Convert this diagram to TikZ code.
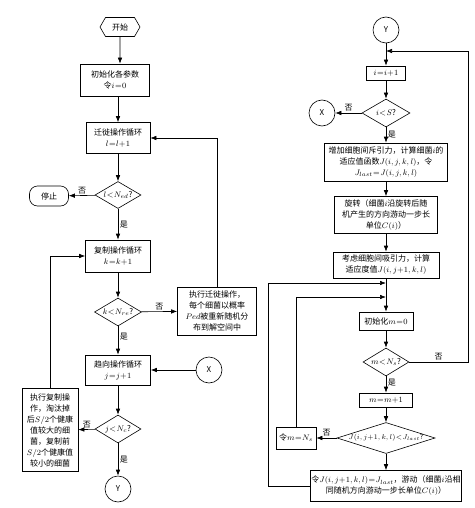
\documentclass[tikz,border=0pt]{standalone}
\usepackage{fontspec, amsmath}
\newfontfamily\cjk{Noto Sans CJK SC}
\usetikzlibrary{arrows.meta, shapes.geometric, shapes.symbols}
\newcommand{\tightmath}{\thickmuskip=1mu\relax\medmuskip=0.5mu\relax}

\begin{document}
\begin{tikzpicture}[x=1pt, y=-1pt, line width=0.6pt,
        font=\cjk\fontsize{8}{11}\selectfont\tightmath,
        box/.style={draw, align=center, inner sep=1.5pt},
        dia/.style={draw, diamond, aspect=1.7, inner sep=0pt},
        circ/.style={draw, circle, minimum size=26pt, inner sep=0pt},
        arr/.style={-{Latex[length=6pt, width=4.5pt]}},
        lab/.style={font=\cjk\fontsize{8}{9}\selectfont, inner sep=1.5pt}]
    \useasboundingbox (0,0) rectangle (474,508);
    % left column
    \node[draw, signal, signal to=west and east, signal pointer angle=120, minimum width=40pt, minimum height=19pt, inner sep=1pt] (start) at (120,27) {开始};
    \node[box, minimum width=69pt, minimum height=32pt] (init) at (115,80) {初始化各参数\\令$i=0$};
    \node[box, minimum width=64pt, minimum height=31pt] (mig) at (118,138) {迁徙操作循环\\$l=l+1$};
    \node[dia, minimum width=46pt, minimum height=27pt] (ded) at (118,195) {$l<N_{ed}$?};
    \node[draw, rounded corners=8pt, minimum width=39pt, minimum height=20pt] (stop) at (49,196) {停止};
    \node[box, minimum width=65pt, minimum height=32pt] (rep) at (118,256) {复制操作循环\\$k=k+1$};
    \node[dia, minimum width=47pt, minimum height=28pt] (dre) at (118,312) {$k<N_{re}$?};
    \node[box, minimum width=79pt, minimum height=48pt] (exe) at (217,311) {执行迁徙操作，\\每个细菌以概率\\$Ped$被重新随机分\\布到解空间中};
    \node[box, minimum width=65pt, minimum height=30pt] (chem) at (118,370) {趋向操作循环\\$j=j+1$};
    \node[circ] (xa) at (209,370) {X};
    \node[dia, minimum width=46pt, minimum height=28pt] (dc) at (118,429) {$j<N_c$?};
    \node[box, minimum width=56pt, minimum height=83pt, inner sep=1pt] (repr) at (50,430) {执行复制操\\作，淘汰掉\\后$S/2$个健康\\值较大的细\\菌，复制前\\$S/2$个健康值\\较小的细菌};
    \node[circ] (ya) at (118,489) {Y};

    \draw[arr] (start) -- (start |- init.north);
    \draw[arr] (init.south -| mig) -- (mig);
    \draw[arr] (mig) -- (ded);
    \draw[arr] (ded) -- node[lab, above]{否} (stop);
    \draw[arr] (ded) -- node[lab, right]{是} (rep);
    \draw[arr] (rep) -- (dre);
    \draw[arr] (dre) -- node[lab, above]{否} (exe);
    \draw[arr] (exe.north) |- (mig.east);
    \draw[arr] (dre) -- node[lab, right, pos=0.35]{是} (chem);
    \draw[arr] (xa) -- (chem);
    \draw[arr] (chem) -- (dc);
    \draw[arr] (dc) -- node[lab, above]{否} (repr);
    \draw[arr] (repr.north) |- (rep.west);
    \draw[arr] (dc) -- node[lab, right]{是} (ya);

    % right column
    \node[circ] (yb) at (386,30) {Y};
    \coordinate (back) at (386,51);
    \coordinate (rx) at (468,0);
    \node[box, minimum width=39pt, minimum height=14pt, inner sep=1pt] (inc) at (386,73) {$i=i+1$};
    \node[dia, minimum width=48pt, minimum height=28pt] (ds) at (386,113) {$i<S$?};
    \node[circ] (xb) at (322,113) {X};
    \node[box, minimum width=123pt, minimum height=38pt, inner sep=1pt] (rep1) at (386,162) {增加细胞间斥引力，计算细菌$i$的\\适应值函数$J(i,j,k,l)$，令\\$J_{last}=J(i,j,k,l)$};
    \node[box, minimum width=103pt, minimum height=37pt, inner sep=1pt] (rot) at (386,215) {旋转（细菌$i$沿旋转后随\\机产生的方向游动一步长\\单位$C(i)$）};
    \node[box, minimum width=106pt, minimum height=26pt, inner sep=1pt] (att) at (386,265) {考虑细胞间吸引力，计算\\适应度值$J(i,j+1,k,l)$};
    \coordinate (ja) at (386,283);
    \coordinate (jb) at (386,297);
    \coordinate (ox) at (268,0);
    \node[box, minimum width=54pt, minimum height=18pt] (initm) at (386,321) {初始化$m=0$};
    \node[dia, minimum width=46pt, minimum height=28pt] (dm) at (386,362) {$m<N_s$?};
    \node[box, minimum width=53pt, minimum height=14pt, inner sep=1pt] (incm) at (386,400) {$m=m+1$};
    \node[dia, aspect=3.3, minimum width=98pt, minimum height=31pt, inner sep=-1.5pt, font=\cjk\fontsize{7}{8}\selectfont\tightmath] (dj) at (386,438) {$J(i,j+1,k,l)<J_{last}$?};
    \node[box, minimum width=40pt, minimum height=22pt] (setm) at (296,438) {令$m=N_s$};
    \node[box, minimum width=149pt, minimum height=31pt, inner sep=1pt] (swim) at (386,486) {令$J(i,j+1,k,l)=J_{last}$，游动（细菌$i$沿相\\同随机方向游动一步长单位$C(i)$）};

    \draw[arr] (yb) -- (inc);
    \draw[arr] (inc) -- (ds);
    \draw[arr] (ds) -- node[lab, above]{否} (xb);
    \draw[arr] (ds) -- node[lab, right]{是} (rep1);
    \draw[arr] (rep1) -- (rot);
    \draw[arr] (rot) -- (att);
    \draw[arr] (att) -- (initm);
    \draw[arr] (initm) -- (dm);
    \draw[arr] (dm.east) -- node[lab, above]{否} (dm.east -| rx) |- (back);
    \draw[arr] (dm) -- node[lab, right, pos=0.4]{是} (incm);
    \draw[arr] (incm) -- (dj);
    \draw[arr] (dj) -- node[lab, above]{否} (setm);
    \draw[arr] (setm.north) |- (jb);
    \draw[arr] (dj) -- (swim);
    \draw[arr] (swim.west) -| (ox |- ja) -- (ja);
\end{tikzpicture}
\end{document}
